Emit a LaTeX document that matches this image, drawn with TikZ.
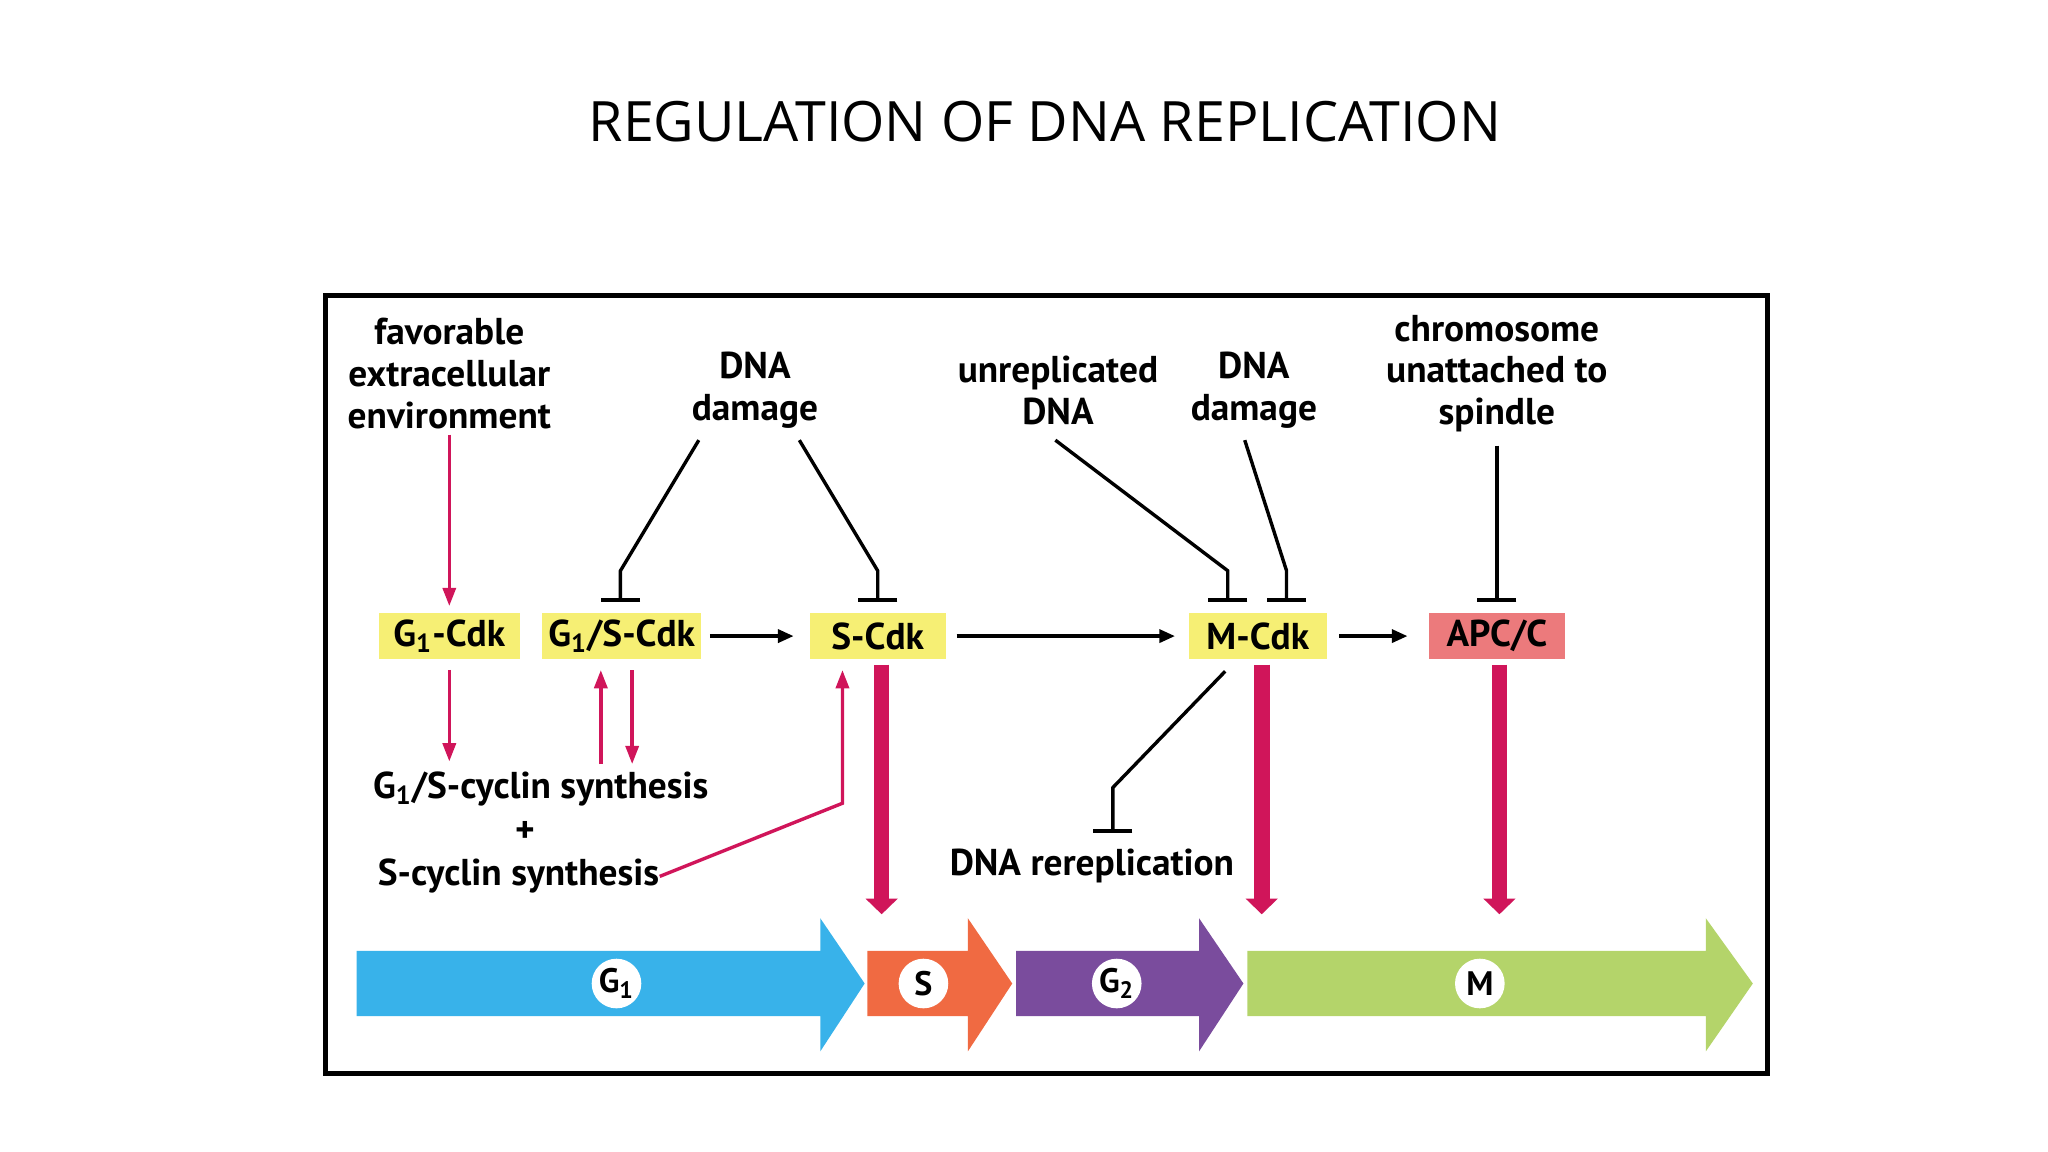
\documentclass[tikz,border=0pt]{standalone}
\usepackage{fontspec}
\setmainfont{Open Sans}
\newfontfamily\lab{PT Sans}
\usetikzlibrary{arrows.meta}
\definecolor{yel}{HTML}{F6EF74}
\definecolor{pnk}{HTML}{D0155A}
\definecolor{apc}{HTML}{EC7A7C}
\definecolor{cb}{HTML}{38B2EA}
\definecolor{co}{HTML}{F06A42}
\definecolor{cp}{HTML}{7A4C9D}
\definecolor{cg}{HTML}{B4D46A}
\begin{document}
\begin{tikzpicture}[x=0.5pt,y=-0.5pt,
 lbl/.style={font=\lab\bfseries\fontsize{14.3}{16}\selectfont,align=center,inner sep=0pt},
 cdk/.style={font=\lab\bfseries\fontsize{14.3}{16}\selectfont,fill=yel,inner sep=0pt,minimum height=17.5pt},
 blk/.style={line width=1.3pt,-{Triangle[length=6pt,width=5pt]}},
 inh/.style={line width=1.3pt,-{Bar[width=15pt,line width=1.5pt]}},
 pk/.style={pnk,line width=1.3pt,-{Triangle[length=7pt,width=5pt]}},
 pkt/.style={pnk,line width=6pt,-{Triangle[length=6pt,width=12pt]}},
 circ/.style={circle,fill=white,inner sep=0pt,minimum size=19pt,font=\lab\bfseries\fontsize{13}{15}\selectfont}]
\useasboundingbox (0,0) rectangle (1568,882);
\node[font=\fontsize{21.3}{26}\selectfont] (title) at (800,93) {REGULATION OF DNA REPLICATION};
\draw[line width=2pt] (249,226) rectangle (1353,822);
% labels
\node[lbl] (env) at (344,286) {favorable\\extracellular\\environment};
\node[lbl] (dd1) at (578,299) {DNA\\damage};
\node[lbl] (unr) at (810,299) {unreplicated\\DNA};
\node[lbl] (dd2) at (960,299) {DNA\\damage};
\node[lbl] (chr) at (1146,286) {chromosome\\unattached to\\spindle};
% cdk nodes
\node[cdk,minimum width=54pt] (g1) at (344,487) {G\textsubscript{1}-Cdk};
\node[cdk,minimum width=61pt] (g1s) at (476,487) {G\textsubscript{1}/S-Cdk};
\node[cdk,minimum width=52pt] (s) at (672,487) {S-Cdk};
\node[cdk,minimum width=53pt] (m) at (963,487) {M-Cdk};
\node[cdk,fill=apc,minimum width=52pt] (apc) at (1146,487) {APC/C};
\draw[blk] (g1s.east)++(6,0) -- ([xshift=-6]s.west);
\draw[blk] (s.east)++(8,0) -- ([xshift=-5]m.west);
\draw[blk] (m.east)++(9,0) -- ([xshift=-8]apc.west);
% inhibitions
\coordinate (a1) at (535,337); \coordinate (a2) at (612,337);
\coordinate (a3) at (808,337); \coordinate (a4) at (953,337);
\draw[inh] (a1) -- (475,437) -- (475,461);
\draw[inh] (a2) -- (672,437) -- (672,461);
\draw[inh] (a3) -- (940,437) -- (940,461);
\draw[inh] (a4) -- (985,437) -- (985,461);
\draw[inh] (chr.south)++(0,10) -- (1146,461);
% pink arrows
\node[lbl] (gsc) at (414,604) {G\textsubscript{1}/S-cyclin synthesis};
\node[lbl] (plus) at (402,637) {+};
\node[lbl] (sc) at (397,671) {S-cyclin synthesis};
\draw[pk] (env.south)++(0,4) -- (344,464);
\draw[pk] (g1.south)++(0,8) -- (344,583);
\draw[pk] (460,585) -- (460,513);
\draw[pk] (484,513) -- (484,585);
\draw[pk] (sc.east) -- (645,615) -- (645,513);
\draw[pkt] (s.south)++(3,4) -- (675,700);
\draw[pkt] (m.south)++(3,4) -- (966,700);
\draw[pkt] (apc.south)++(2,4) -- (1148,700);
% rereplication
\node[lbl] (rr) at (836,663) {DNA rereplication};
\draw[inh] (938,514) -- (852,603) -- (852,638);
% phase arrows
\fill[cb] (273,728) -- (628,728) -- (628,703) -- (662,753) -- (628,805) -- (628,778) -- (273,778) -- cycle;
\fill[co] (664,728) -- (741,728) -- (741,703) -- (775,753) -- (741,805) -- (741,778) -- (664,778) -- cycle;
\fill[cp] (778,728) -- (918,728) -- (918,703) -- (952,753) -- (918,805) -- (918,778) -- (778,778) -- cycle;
\fill[cg] (955,728) -- (1306,728) -- (1306,703) -- (1342,753) -- (1306,805) -- (1306,778) -- (955,778) -- cycle;
\node[circ] (pg1) at (472,753) {G\textsubscript{1}};
\node[circ] (ps) at (707,753) {S};
\node[circ] (pg2) at (855,753) {G\textsubscript{2}};
\node[circ] (pm) at (1133,753) {M};
\end{tikzpicture}
\end{document}
